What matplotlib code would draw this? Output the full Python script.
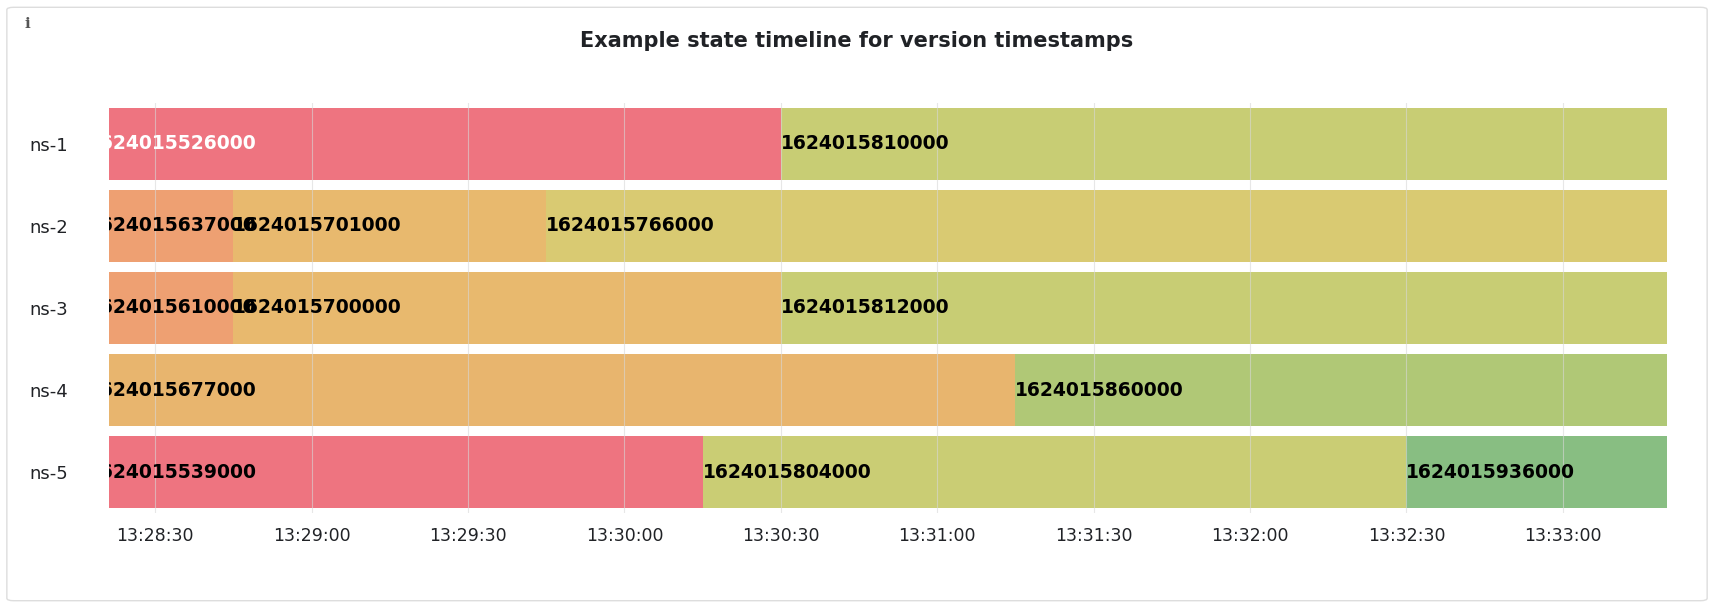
import matplotlib
matplotlib.use("Agg")
import matplotlib.pyplot as plt
from matplotlib.patches import FancyBboxPatch

rows = ["ns-1", "ns-2", "ns-3", "ns-4", "ns-5"]
# segments per row: (start seconds after 13:28:30, end, label)
seg_starts = [[-13, 120], [-13, 15, 75], [-13, 15, 120], [-13, 165], [-13, 105, 240]]
seg_ends = [[120, 290], [15, 75, 290], [15, 120, 290], [165, 290], [105, 240, 290]]
seg_labels = [["1624015526000", "1624015810000"],
              ["1624015637000", "1624015701000", "1624015766000"],
              ["1624015610000", "1624015700000", "1624015812000"],
              ["1624015677000", "1624015860000"],
              ["1624015539000", "1624015804000", "1624015936000"]]
seg_colors = [["#EE7480", "#C8CD74"],
              ["#EEA072", "#E8B96E", "#D9CA72"],
              ["#EEA072", "#E8B96E", "#C8CD74"],
              ["#E8B56E", "#B0C876"],
              ["#EE7480", "#CACD74", "#88BE82"]]
text_colors = [["white", "black"], ["black"] * 3, ["black"] * 3, ["black"] * 2, ["black"] * 3]
tick_pos = [0, 30, 60, 90, 120, 150, 180, 210, 240, 270]
tick_labels = ["13:28:30", "13:29:00", "13:29:30", "13:30:00", "13:30:30",
               "13:31:00", "13:31:30", "13:32:00", "13:32:30", "13:33:00"]

W, H = 1714, 608
fig = plt.figure(figsize=(W / 100, H / 100), dpi=100)
fig.patch.set_facecolor("white")
border = FancyBboxPatch((0.004, 0.012), 0.992, 0.976, boxstyle="round,pad=0,rounding_size=0.004",
                        transform=fig.transFigure, facecolor="none", edgecolor="#DDDDDD", lw=1, zorder=-5)
fig.patches.append(border)
fig.text(0.5, 0.932, "Example state timeline for version timestamps", ha="center", va="center",
         fontsize=15, fontweight="bold", color="#202226")
fig.text(0.016, 0.96, "i", ha="center", va="center", fontsize=11, fontweight="bold",
         family="DejaVu Serif", color="#555")

ax = fig.add_axes([0.0638, 0.156, 0.9088, 0.675])
ax.set_facecolor("none")
ax.set_xlim(-8.8, 290)
ax.set_ylim(len(rows) - 0.5, -0.5)
for x in tick_pos:
    ax.axvline(x, color="#d8d8d8", lw=0.8, zorder=3, alpha=0.6)
for i in range(len(rows)):
    for s, e, lab, c, tc in zip(seg_starts[i], seg_ends[i], seg_labels[i], seg_colors[i], text_colors[i]):
        ax.barh(i, e - s, left=s, height=0.88, color=c, edgecolor="none", zorder=2)
        ax.text(s, i, lab, ha="left", va="center", fontsize=13.5, fontweight="bold",
                color=tc, clip_on=True, zorder=4)
ax.set_yticks(range(len(rows)))
ax.set_yticklabels(rows, fontsize=13, color="#202226")
ax.set_xticks(tick_pos)
ax.set_xticklabels(tick_labels, fontsize=12.5, color="#202226")
ax.tick_params(length=0, pad=10)
ax.tick_params(axis="y", pad=30)
for sp in ax.spines.values():
    sp.set_visible(False)
fig.savefig("out.png", dpi=100)
